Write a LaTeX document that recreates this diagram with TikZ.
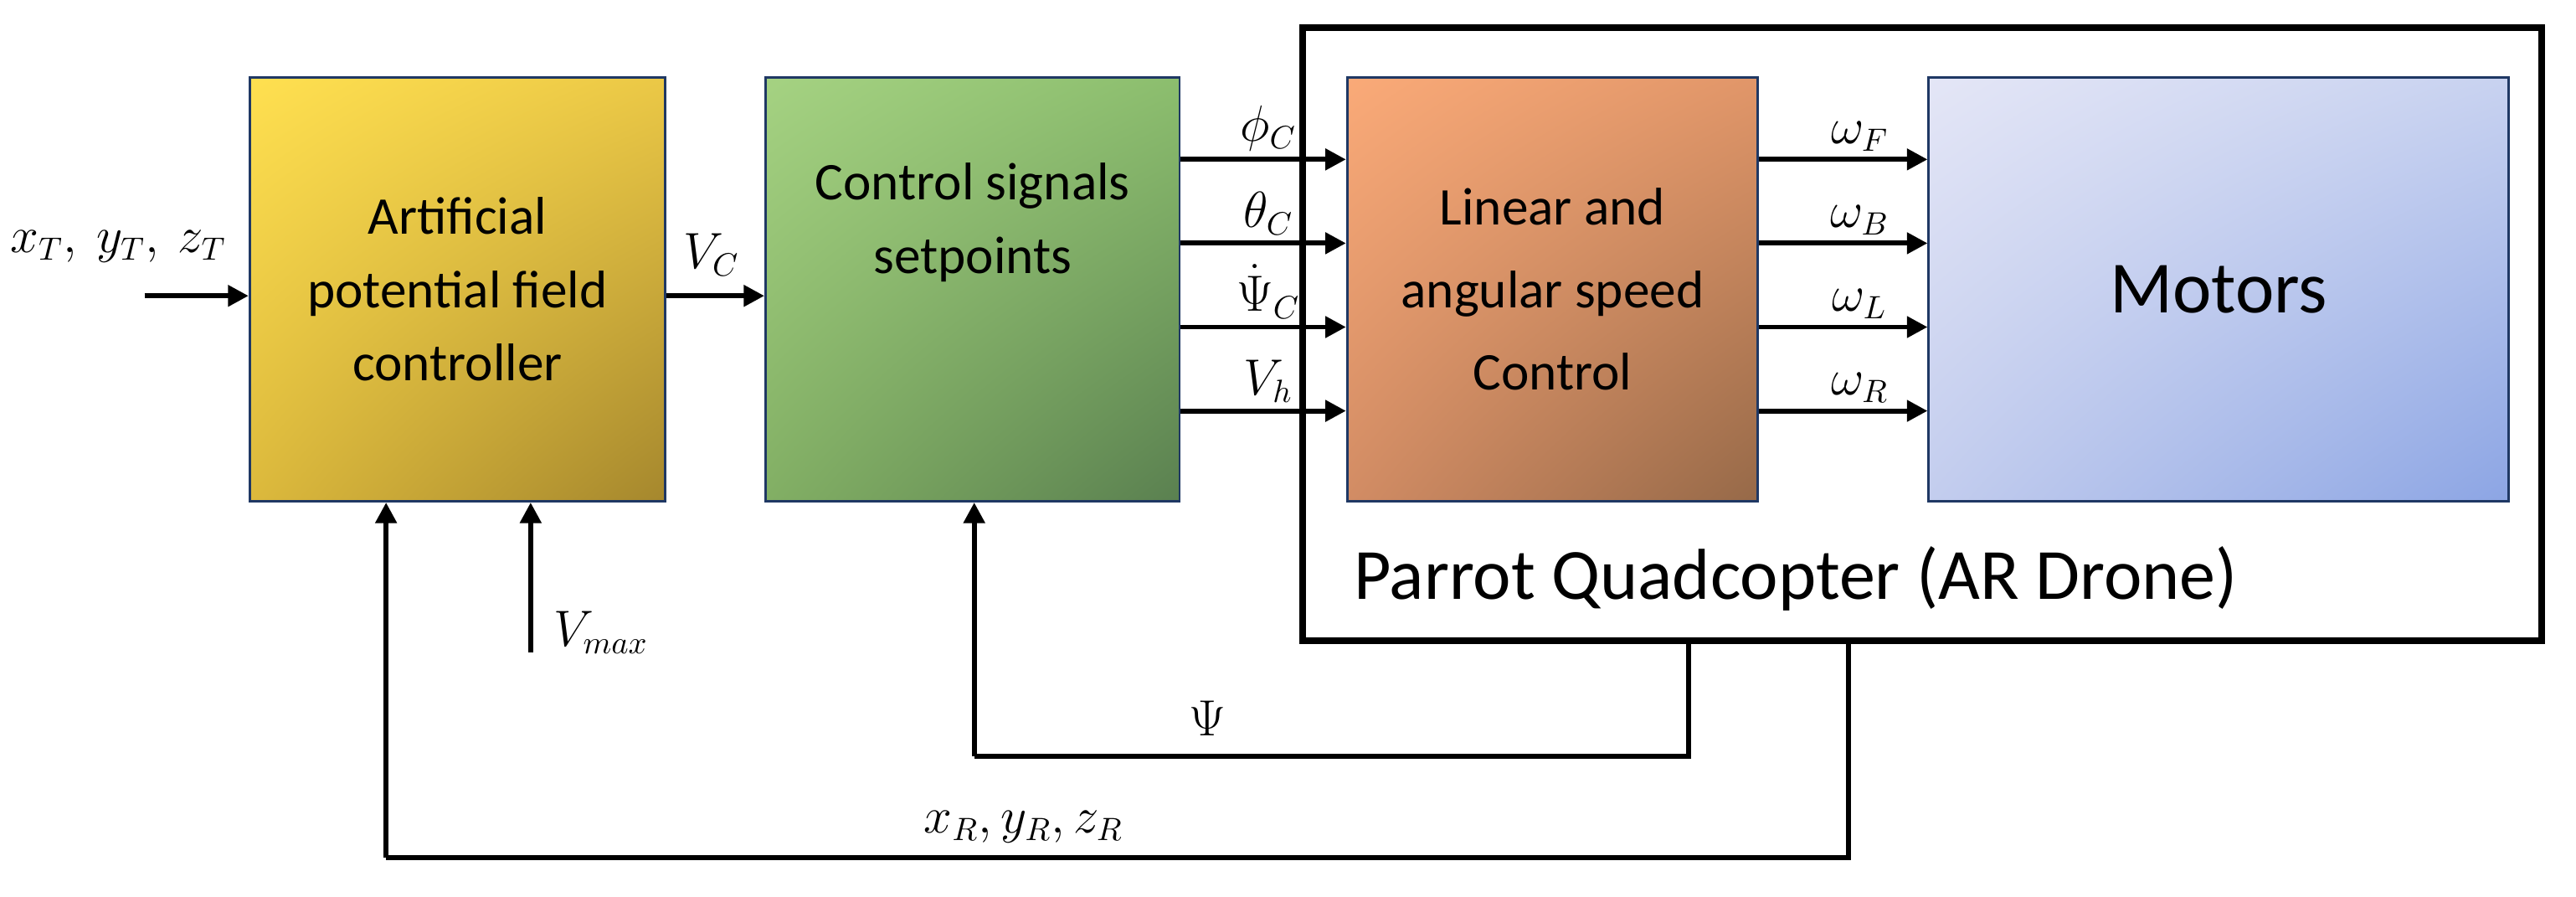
\documentclass[tikz,border=0pt]{standalone}
\usepackage{fontspec}
\setmainfont{Carlito}
\usepackage{amsmath}
\usetikzlibrary{arrows.meta,shadings}
\definecolor{a1}{RGB}{255,224,80}\definecolor{a2}{RGB}{235,200,70}\definecolor{a3}{RGB}{220,185,60}\definecolor{a4}{RGB}{165,135,45}
\definecolor{b1}{RGB}{165,210,130}\definecolor{b2}{RGB}{140,190,110}\definecolor{b3}{RGB}{130,175,100}\definecolor{b4}{RGB}{90,128,80}
\definecolor{c1}{RGB}{250,170,120}\definecolor{c2}{RGB}{225,150,105}\definecolor{c3}{RGB}{210,140,100}\definecolor{c4}{RGB}{150,105,72}
\definecolor{d1}{RGB}{228,230,246}\definecolor{d2}{RGB}{200,210,240}\definecolor{d3}{RGB}{195,205,238}\definecolor{d4}{RGB}{140,165,228}
\definecolor{bord}{RGB}{31,56,100}
\def\u{0.019624cm}
\begin{document}
\begin{tikzpicture}[x=\u,y=-\u,
  blk/.style={draw=bord,line width=0.8pt,inner sep=0pt,align=center,font=\fontsize{18}{25}\selectfont,minimum height=258*\u},
  arr/.style={line width=1.7pt,-{Triangle[length=7pt,width=7pt]}},
  ln/.style={line width=1.7pt},
  lab/.style={font=\fontsize{16}{19}\selectfont,inner sep=1pt}]
\useasboundingbox (0,0) rectangle (1568,545.3);
\node[blk,minimum width=253*\u,upper left=a1,upper right=a2,lower left=a3,lower right=a4] (apf) at (278.5,176) {Artificial\\potential field\\controller};
\node[blk,minimum width=252*\u,upper left=b1,upper right=b2,lower left=b3,lower right=b4] (cs) at (592,176) {Control signals\\setpoints\\[1.3em]};
\node[blk,minimum width=250*\u,upper left=c1,upper right=c2,lower left=c3,lower right=c4,font=\fontsize{18}{28}\selectfont] (lin) at (945,176) {Linear and\\angular speed\\Control};
\node[blk,minimum width=353*\u,upper left=d1,upper right=d2,lower left=d3,lower right=d4,font=\fontsize{25}{30}\selectfont] (mot) at (1350.5,176) {Motors};
\node[draw,line width=2.3pt,minimum width=754*\u,minimum height=373*\u,inner sep=0pt] (pq) at (1170,203.5) {};
\node[font=\fontsize{24.5}{28}\selectfont] (pqt) at (1093,352) {Parrot Quadcopter (AR Drone)};
% input
\coordinate (in) at (88,180);
\draw[arr] (in) -- (apf.west |- in);
\node[lab] (inl) at (72,150) {$x_T,\ y_T,\ z_T$};
\draw[arr] (apf.east |- 0,180) -- (cs.west |- 0,180);
\node[lab,anchor=south] (vc) at (433,170) {$V_C$};
\foreach \y/\l [count=\i] in {97/\phi_C,148/\theta_C,199/\dot{\Psi}_C,250/V_h}{
  \draw[arr] (cs.east |- 0,\y) -- (lin.west |- 0,\y);
  \node[lab,anchor=south] (cl\i) at (772,\y-3) {$\l$};}
\foreach \y/\l [count=\i] in {97/\omega_F,148/\omega_B,199/\omega_L,250/\omega_R}{
  \draw[arr] (lin.east |- 0,\y) -- (mot.west |- 0,\y);
  \node[lab,anchor=south] (ml\i) at (1132,\y-3) {$\l$};}
% Vmax
\coordinate (vm) at (323,397);
\draw[arr] (vm) -- (apf.south -| vm);
\node[lab] (vml) at (366,385) {$V_{max}$};
% Psi feedback
\coordinate (p1) at (1028,460);
\coordinate (p2) at (593,460);
\draw[ln] (pq.south -| p1) -- (p1) -- (p2);
\draw[arr] (p2) -- (cs.south -| p2);
\node[lab] (psl) at (735,437) {$\Psi$};
% xR feedback
\coordinate (r1) at (1125,522);
\coordinate (r2) at (235,522);
\draw[ln] (pq.south -| r1) -- (r1) -- (r2);
\draw[arr] (r2) -- (apf.south -| r2);
\node[lab] (xrl) at (623,503) {$x_R,y_R,z_R$};
\end{tikzpicture}
\end{document}
